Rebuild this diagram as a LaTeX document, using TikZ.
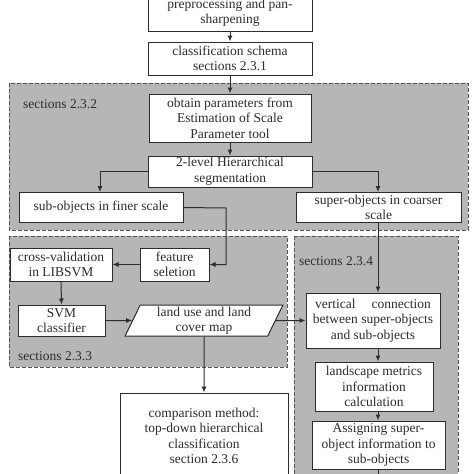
\documentclass[tikz,border=0pt]{standalone}
\usepackage{fontspec}
\setmainfont{Liberation Serif}
\usetikzlibrary{arrows.meta,shapes.geometric}
\definecolor{panelgrey}{RGB}{182,182,182}
\definecolor{edgegrey}{RGB}{85,85,85}
\definecolor{ink}{RGB}{45,45,45}
\tikzset{
  boxnode/.style={draw=ink, fill=white, line width=1pt, align=center, inner sep=0pt, text=ink,
    font=\fontsize{13.5}{15.5}\selectfont},
  panel/.style={draw=edgegrey, fill=panelgrey, dashed, dash pattern=on 4pt off 2pt, line width=0.9pt},
  paneltext/.style={anchor=west, text=ink, inner sep=0pt, font=\fontsize{13.5}{15.5}\selectfont},
  arr/.style={draw=ink, line width=1pt, -{Latex[length=6pt,width=5pt]}},
  ln/.style={draw=ink, line width=1pt}
}
\begin{document}
\begin{tikzpicture}[x=1pt,y=-1pt]
\useasboundingbox (0,0) rectangle (474,474);
\clip (0,0) rectangle (474,474);
\fill[white] (0,0) rectangle (474,474);
% panels
\draw[panel] (9,83) rectangle (468,230);
\draw[panel] (9,236) rectangle (287,367);
\draw[panel] (294,236) rectangle (458,500);
\node[paneltext] (l232) at (23,104) {sections 2.3.2};
\node[paneltext] (l233) at (18,356) {sections 2.3.3};
\node[paneltext] (l234) at (299,261) {sections 2.3.4};
% boxes
\node[boxnode, minimum width=164pt, minimum height=37pt] (pre) at (230,13) {preprocessing and pan-\\sharpening};
\node[boxnode, minimum width=164pt, minimum height=33pt] (cls) at (230,58.5) {classification schema\\sections 2.3.1};
\node[boxnode, minimum width=162pt, minimum height=48pt] (obt) at (230,118) {obtain parameters from\\Estimation of Scale\\Parameter tool};
\node[boxnode, minimum width=164pt, minimum height=31pt] (seg) at (230,171.5) {2-level Hierarchical\\segmentation};
\node[boxnode, minimum width=164pt, minimum height=30pt] (sub) at (101,207.5) {sub-objects in finer scale};
\node[boxnode, minimum width=165pt, minimum height=30pt] (sup) at (378.5,207.5) {super-objects in coarser\\scale};
\node[boxnode, minimum width=69pt, minimum height=33pt] (feat) at (174.5,264.5) {feature\\seletion};
\node[boxnode, minimum width=102pt, minimum height=33pt] (cv) at (61,264.5) {cross-validation\\in LIBSVM};
\node[boxnode, minimum width=87pt, minimum height=31pt] (svm) at (61.5,320.5) {SVM\\classifier};
\node[boxnode, trapezium, trapezium left angle=68, trapezium right angle=112, trapezium stretches=true,
  minimum width=158pt, minimum height=31pt] (map) at (204,320.5) {land use and land\\cover map};
\node[boxnode, minimum width=168pt, minimum height=86pt] (cmp) at (204,436) {comparison method:\\top-down hierarchical\\classification\\section 2.3.6};
\node[boxnode, minimum width=134pt, minimum height=55pt] (vc) at (373,320.5) {vertical\hspace{1.2em}connection\\between super-objects\\and sub-objects};
\node[boxnode, minimum width=118pt, minimum height=49pt] (lm) at (374,386.5) {landscape metrics\\information\\calculation};
\node[boxnode, minimum width=133pt, minimum height=48pt] (as) at (378.5,445) {Assigning super-\\object information to\\sub-objects};
\coordinate (j1) at (226,208);
\coordinate (j2) at (100,171.5);
\coordinate (j3) at (378,171.5);
\coordinate (bot) at (378,480);
% connectors
\draw[arr] (pre) -- (cls);
\draw[arr] (cls) -- (obt);
\draw[arr] (obt) -- (seg);
\draw[arr] (seg.west) -- (j2) -- (j2 |- sub.north);
\draw[arr] (seg.east) -- (j3) -- (j3 |- sup.north);
\draw[arr] (sub.east) -- (j1) |- (feat.east);
\draw[arr] (feat.west) -- (cv.east);
\draw[arr] (cv.south) -- (svm.north);
\draw[arr] (svm.east) -- (map.west);
\draw[arr] (map.east) -- (vc.west);
\draw[arr] (map.south) -- (cmp.north);
\draw[arr] (j3 |- sup.south) -- (j3 |- vc.north);
\draw[arr] (j3 |- vc.south) -- (j3 |- lm.north);
\draw[arr] (j3 |- lm.south) -- (j3 |- as.north);
\draw[ln] (as.south -| j3) -- (bot);
\end{tikzpicture}
\end{document}
